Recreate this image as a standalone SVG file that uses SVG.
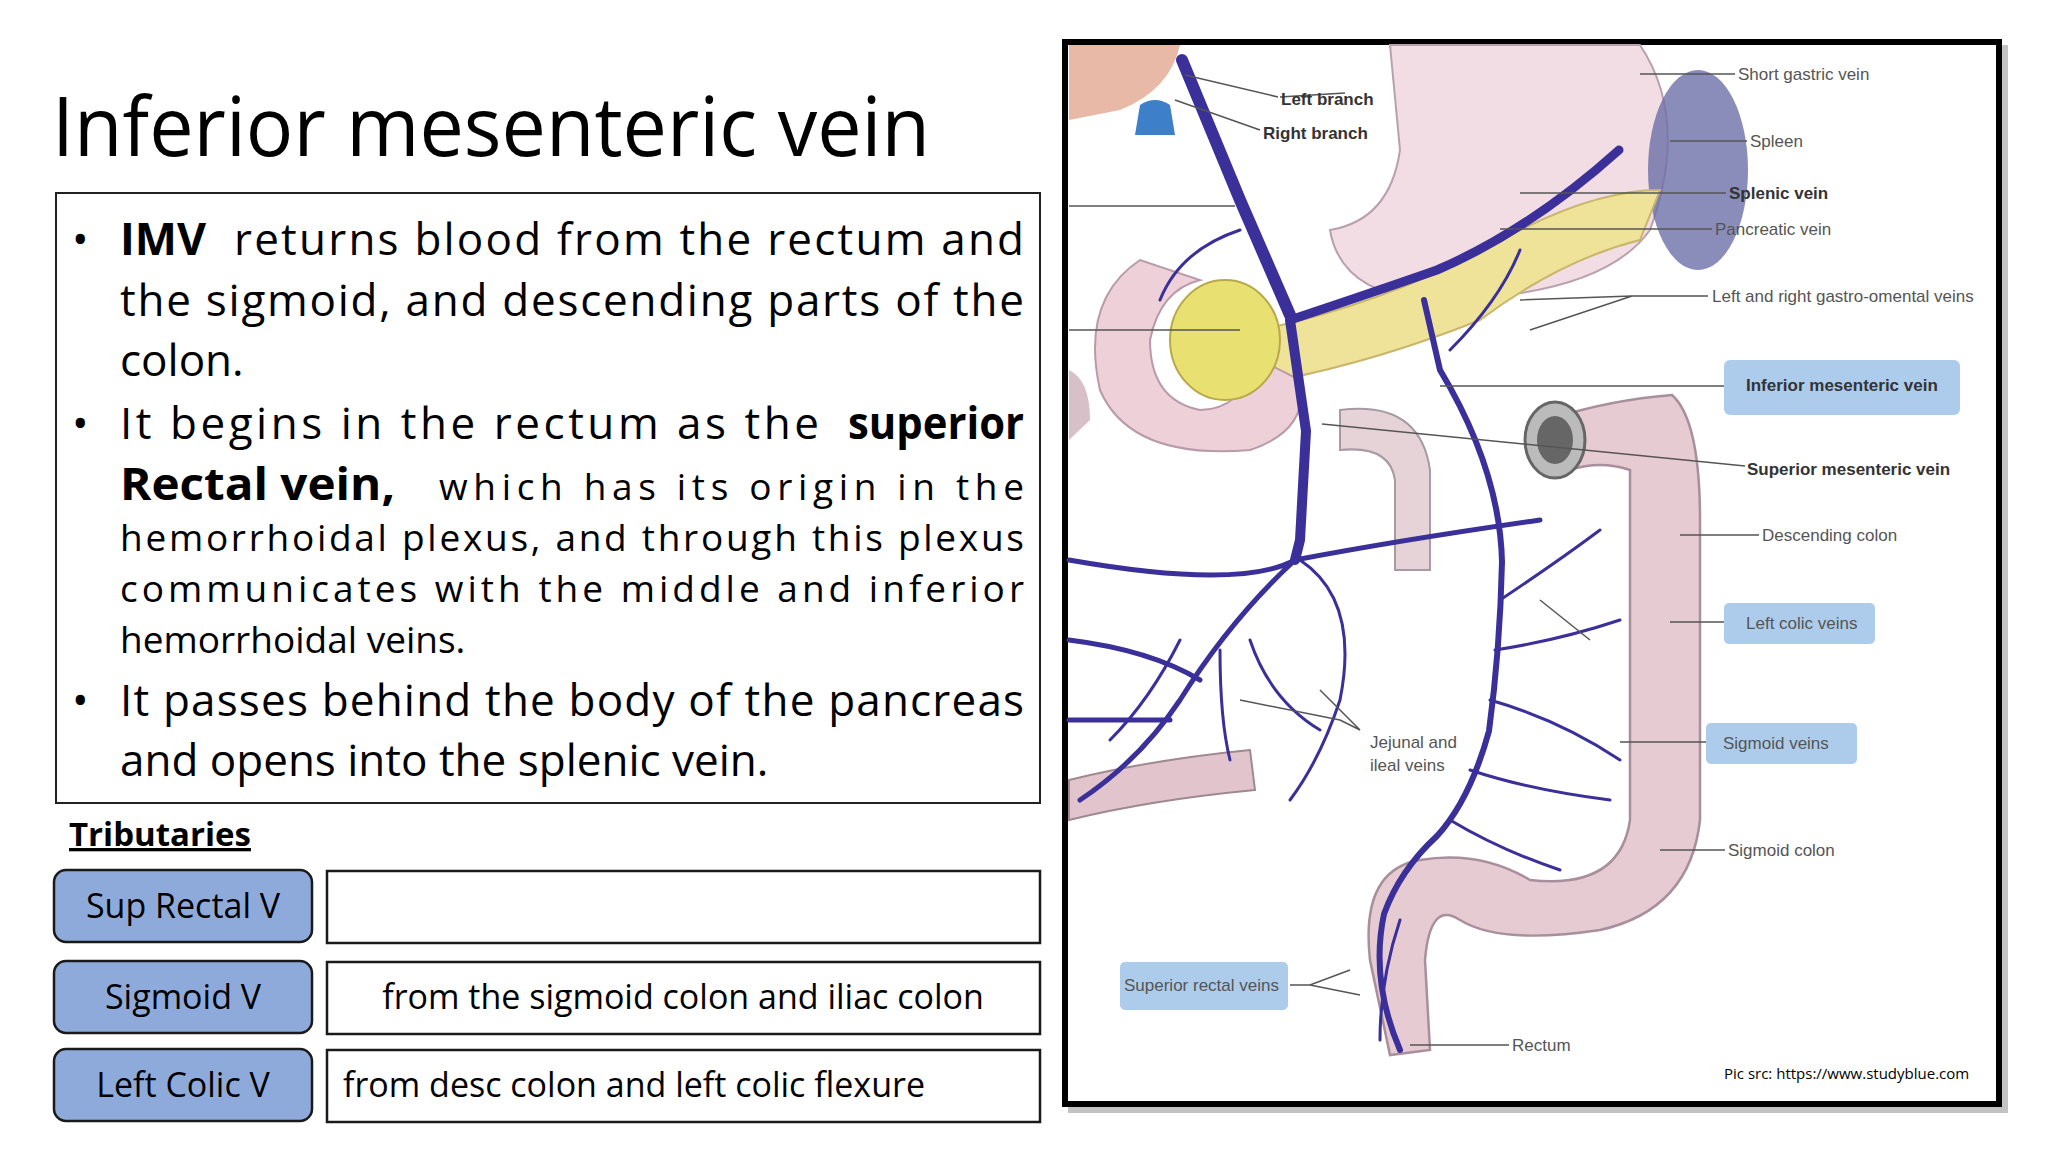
<svg xmlns="http://www.w3.org/2000/svg" width="2048" height="1152" viewBox="0 0 2048 1152">
<style>
.t{font-family:"Open Sans","Liberation Sans",sans-serif;fill:#000}
.b{font-size:44px}
.s{font-size:37px}
.bd{font-weight:bold}
.lb{font-family:"Liberation Sans",sans-serif;font-size:17px;fill:#555}
.lbb{font-family:"Liberation Sans",sans-serif;font-size:17px;fill:#333;font-weight:bold}
.hl{fill:#9fc3e7;opacity:.85}
.tb{fill:#8eaadb;stroke:#1a1a1a;stroke-width:2.5}
.wb{fill:#fff;stroke:#1a1a1a;stroke-width:2.5}
.bt{font-family:"Open Sans","Liberation Sans",sans-serif;font-size:34px;fill:#000}
.v{fill:none;stroke:#3b2f9a;stroke-linecap:round;stroke-linejoin:round}
.ln{stroke:#555;stroke-width:1.5;fill:none}
</style>
<rect width="2048" height="1152" fill="#fff"/>
<text class="t" x="52" y="156" font-size="82" textLength="878" lengthAdjust="spacingAndGlyphs">Inferior mesenteric vein</text>
<rect x="56" y="193" width="984" height="610" fill="#fff" stroke="#222" stroke-width="2"/>
<g class="t">
<text x="72" y="255" class="b">•</text>
<text x="120" y="255" class="b bd" textLength="86" lengthAdjust="spacingAndGlyphs">IMV</text>
<text x="234" y="255" class="b" textLength="790">returns blood from the rectum and</text>
<text x="120" y="316" class="b" textLength="904">the sigmoid, and descending parts of the</text>
<text x="120" y="376" class="b">colon.</text>
<text x="72" y="439" class="b">•</text>
<text x="120" y="439" class="b" textLength="699">It begins in the rectum as the</text>
<text x="848" y="439" class="b bd" textLength="176" lengthAdjust="spacingAndGlyphs">superior</text>
<text x="120" y="500" class="b bd" textLength="275" lengthAdjust="spacingAndGlyphs">Rectal  vein,</text>
<text x="439" y="500" class="s" textLength="585">which has its origin in the</text>
<text x="120" y="551" class="s" textLength="904">hemorrhoidal plexus, and through this plexus</text>
<text x="120" y="602" class="s" textLength="904">communicates with the middle and inferior</text>
<text x="120" y="653" class="s">hemorrhoidal veins.</text>
<text x="72" y="716" class="b">•</text>
<text x="120" y="716" class="b" textLength="904">It passes behind the body of the pancreas</text>
<text x="120" y="776" class="b">and opens into the splenic vein.</text>
</g>
<text class="t bd" x="69" y="846" font-size="33" text-decoration="underline">Tributaries</text>
<g id="sup-rectal"><rect class="tb" x="54" y="870" width="258" height="72" rx="12"/><text class="bt" x="183" y="918" text-anchor="middle">Sup Rectal V</text><rect class="wb" x="327" y="871" width="713" height="72"/></g>
<g id="sigmoid"><rect class="tb" x="54" y="961" width="258" height="72" rx="12"/><text class="bt" x="183" y="1009" text-anchor="middle">Sigmoid V</text><rect class="wb" x="327" y="962" width="713" height="72"/><text class="bt" x="683" y="1009" text-anchor="middle">from the sigmoid colon and iliac colon</text></g>
<g id="left-colic"><rect class="tb" x="54" y="1049" width="258" height="72" rx="12"/><text class="bt" x="183" y="1097" text-anchor="middle">Left Colic V</text><rect class="wb" x="327" y="1050" width="713" height="72"/><text class="bt" x="343" y="1097">from desc colon and left colic flexure</text></g>

<g id="picture">
<rect x="1068" y="45" width="940" height="1068" fill="#888" opacity=".5"/>
<rect x="1065" y="42" width="934" height="1062" fill="#fff" stroke="#000" stroke-width="6"/>
<!-- liver corner -->
<path d="M1069 45 L1180 45 Q1170 90 1120 110 L1069 120 Z" fill="#e9b9a8"/>
<path d="M1140 105 q15 -10 30 0 l5 30 h-40 z" fill="#3d7fc8"/>
<!-- stomach -->
<path d="M1390 45 L1640 45 Q1690 120 1650 230 Q1600 300 1420 300 Q1340 290 1330 230 Q1390 220 1400 150 Z" fill="#f1dde3" stroke="#b9a0ad" stroke-width="2"/>
<!-- spleen -->
<ellipse cx="1698" cy="170" rx="50" ry="100" fill="#6d6fa8" opacity=".8"/>
<!-- pancreas -->
<path d="M1260 330 Q1400 300 1520 230 Q1600 190 1660 190 L1640 240 Q1560 260 1480 320 Q1380 360 1280 380 Z" fill="#efe39a" stroke="#c9b66a" stroke-width="2"/>
<!-- duodenum -->
<path d="M1140 260 Q1080 300 1100 390 Q1130 460 1250 450 Q1310 430 1300 380 L1260 360 Q1240 410 1200 410 Q1150 400 1150 340 Q1160 290 1200 280 Z" fill="#eed0d8" stroke="#b99aa8" stroke-width="2"/>
<ellipse cx="1225" cy="340" rx="55" ry="60" fill="#e8e070" stroke="#b8a84a" stroke-width="2"/>
<!-- small intestine pieces -->
<path d="M1340 410 Q1420 400 1430 470 L1430 570 L1395 570 L1395 480 Q1390 445 1340 450 Z" fill="#e6d3d8" stroke="#a89aa2" stroke-width="2"/>
<path d="M1069 780 Q1150 760 1250 750 L1255 790 Q1150 800 1069 820 Z" fill="#e2c5cc" stroke="#a08890" stroke-width="2"/>
<path d="M1069 370 Q1090 380 1090 420 L1069 440 Z" fill="#d8c0c8"/>
<!-- colon -->
<path d="M1554 418 Q1610 400 1672 395 Q1700 420 1700 520 L1700 820 Q1690 910 1600 930 Q1500 945 1460 920 Q1430 900 1425 960 L1430 1050 L1390 1055 L1370 960 Q1360 870 1420 860 Q1480 850 1530 880 Q1620 890 1630 820 L1630 470 Q1600 460 1570 470 Z" fill="#e7cbd3" stroke="#a88f9b" stroke-width="2.5"/>
<ellipse cx="1555" cy="440" rx="30" ry="38" fill="#bbb" stroke="#666" stroke-width="3"/>
<ellipse cx="1555" cy="440" rx="18" ry="24" fill="#666"/>
<!-- veins -->
<path class="v" stroke-width="12" d="M1182 60 L1240 200 L1290 315"/>
<path class="v" stroke-width="9" d="M1290 320 Q1380 290 1437 270 Q1530 230 1619 150"/>
<path class="v" stroke-width="10" d="M1290 320 L1306 431 L1300 540 L1295 560"/>
<path class="v" stroke-width="6" d="M1424 300 L1440 370 Q1500 470 1502 562 Q1500 650 1489 731 Q1470 800 1437 836 Q1400 870 1384 914 Q1370 980 1400 1050"/>
<path class="v" stroke-width="5" d="M1295 560 Q1230 620 1180 700 Q1140 760 1080 800 M1295 560 Q1240 590 1069 560 M1295 560 Q1400 540 1540 520 M1200 680 Q1150 650 1069 640 M1170 720 Q1120 720 1069 720"/>
<path class="v" stroke-width="3" d="M1300 560 Q1360 600 1340 700 Q1320 760 1290 800 M1500 600 Q1560 560 1600 530 M1495 650 Q1560 640 1620 620 M1490 700 Q1560 720 1620 760 M1470 770 Q1530 790 1610 800 M1450 820 Q1500 850 1560 870 M1400 920 Q1380 980 1380 1040 M1240 230 Q1180 250 1160 300 M1450 350 Q1500 300 1520 250 M1180 640 Q1150 700 1110 740 M1220 650 Q1220 720 1230 760 M1250 640 Q1270 700 1320 730"/>
<!-- leader lines -->
<g class="ln">
<path d="M1640 74 H1735 M1670 141 H1747 M1520 193 H1726 M1500 229 H1712 M1520 300 L1632 296 H1708 M1530 330 L1632 296 M1440 386 H1724 M1322 424 L1745 466 M1680 535 H1759 M1670 622 H1724 M1540 600 L1590 640 M1620 742 H1706 M1660 850 H1725 M1290 985 H1310 L1350 970 M1310 985 L1360 995 M1410 1045 H1509 M1345 93 L1280 97 M1185 75 L1278 97 M1175 100 L1260 130 M1069 206 H1235 M1069 330 H1240 M1340 720 L1360 730 L1320 690 M1340 720 L1240 700"/>
</g>
<text class="lb" x="1738" y="80">Short gastric vein</text>
<text class="lb" x="1750" y="147">Spleen</text>
<text class="lbb" x="1729" y="199">Splenic vein</text>
<text class="lb" x="1715" y="235">Pancreatic vein</text>
<text class="lb" x="1712" y="302">Left and right gastro-omental veins</text>
<rect class="hl" x="1724" y="360" width="236" height="55" rx="6"/>
<text class="lbb" x="1746" y="391" fill="#4a5a80">Inferior mesenteric vein</text>
<text class="lbb" x="1747" y="475">Superior mesenteric vein</text>
<text class="lb" x="1762" y="541">Descending colon</text>
<rect class="hl" x="1724" y="603" width="151" height="41" rx="5"/>
<text class="lb" x="1746" y="629" fill="#5a77a0">Left colic veins</text>
<rect class="hl" x="1706" y="723" width="151" height="41" rx="5"/>
<text class="lb" x="1723" y="749" fill="#5a77a0">Sigmoid veins</text>
<text class="lb" x="1728" y="856">Sigmoid colon</text>
<rect class="hl" x="1120" y="962" width="168" height="48" rx="5"/>
<text class="lb" x="1124" y="991" fill="#5a77a0">Superior rectal veins</text>
<text class="lb" x="1512" y="1051">Rectum</text>
<text class="lbb" x="1281" y="105">Left branch</text>
<text class="lbb" x="1263" y="139">Right branch</text>
<text class="lb" x="1370" y="748">Jejunal and</text>
<text class="lb" x="1370" y="771">ileal veins</text>
<text x="1724" y="1079" font-family="'Open Sans','Liberation Sans',sans-serif" font-size="15" fill="#000">Pic src: https://www.studyblue.com</text>
</g>
</svg>
